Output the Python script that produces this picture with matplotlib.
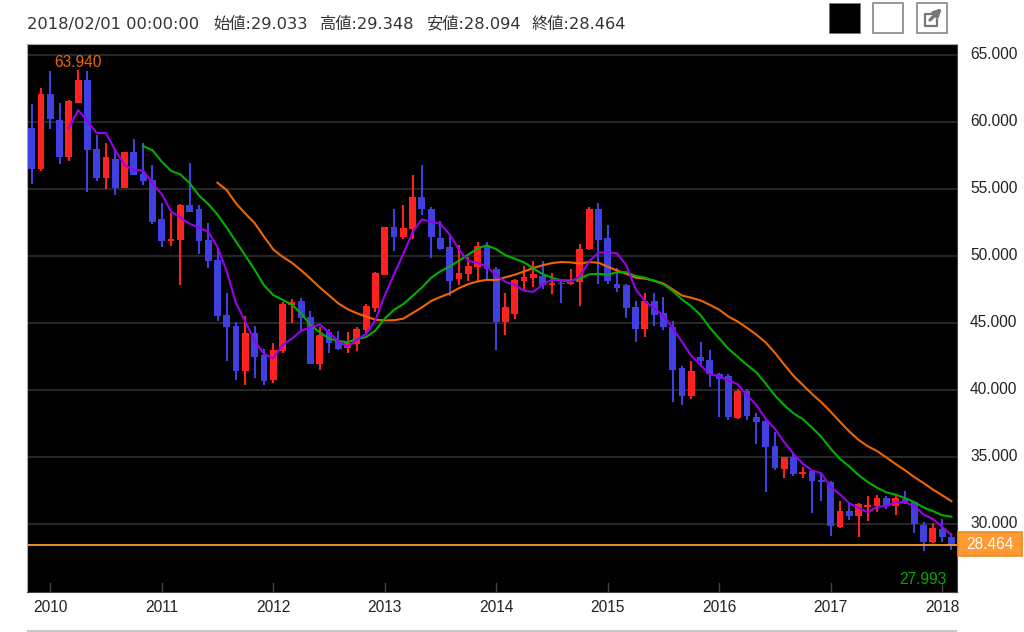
import matplotlib
matplotlib.use("Agg")
import matplotlib.pyplot as plt
from matplotlib.patches import Rectangle
import numpy as np

W, H = 1024, 632

# monthly candles, 2009/11 to 2018/02: upper and lower body edge, wick ends
tops = [59.6,62.14,62.14,60.15,61.59,63.18,63.18,58.03,57.41,57.28,57.81,57.81,56.12,55.70,52.76,51.30,53.81,53.81,53.51,51.2,49.7,45.62,44.78,44.25,44.25,42.61,42.98,46.47,46.57,46.67,45.5,44.15,44.35,43.66,43.53,44.55,46.27,48.78,52.21,52.21,52.14,54.45,54.45,53.5,51.39,50.67,48.78,49.28,50.75,50.77,49.08,46.24,48.23,48.48,48.66,48.56,48.03,48.03,48.08,50.57,53.51,53.51,51.39,47.91,47.84,46.24,46.67,46.67,45.75,44.75,41.62,41.42,42.46,42.24,41.19,41.02,39.95,39.95,38.03,37.66,35.8,35.0,35.0,33.9,33.93,33.28,33.11,30.99,30.99,31.52,31.42,31.91,31.94,31.91,31.87,31.62,29.95,29.72,29.63,29.033]
bots = [56.5,56.49,60.27,57.41,57.41,61.46,57.96,55.84,55.84,55.09,55.09,56.07,55.62,52.59,51.12,51.12,51.22,53.31,51.12,49.63,45.55,44.68,41.44,41.44,42.46,40.7,40.77,42.91,46.34,45.42,41.94,41.94,43.53,43.09,43.14,43.43,44.48,46.17,48.61,51.44,51.44,52.07,53.5,51.44,50.57,48.16,48.28,48.66,49.2,49.03,45.1,45.1,45.65,48.13,48.36,47.84,47.86,47.93,47.91,48.08,50.57,51.22,48.16,47.61,46.17,44.6,44.6,45.62,44.7,41.54,39.53,39.53,42.16,41.24,40.87,37.96,37.91,38.08,37.59,35.77,34.15,34.08,33.73,33.73,33.23,33.11,29.88,29.75,30.57,30.62,31.24,31.32,31.37,31.32,31.57,30.0,28.68,28.68,29.05,28.464]
highs = [61.4,62.53,63.8,61.41,61.69,63.94,63.8,59.08,58.43,57.98,57.81,58.78,58.43,56.79,54.0,53.2,53.9,56.99,53.81,52.46,50.52,47.29,45.1,45.55,44.78,43.06,43.51,46.57,46.79,46.89,45.92,44.68,44.53,44.45,44.35,44.75,46.47,48.8,52.21,53.5,53.81,56.05,56.79,53.71,52.66,51.57,50.87,49.98,51.1,51.1,49.2,47.29,48.33,49.28,49.63,49.63,48.78,48.28,49.08,50.9,53.71,54.0,52.36,49.15,47.9,46.67,47.29,47.29,46.99,45.17,41.8,42.21,43.63,42.99,41.27,41.19,40.07,40.07,38.28,37.76,36.89,35.0,35.3,34.25,33.93,33.9,33.18,31.71,31.54,31.57,32.06,32.16,32.06,32.16,32.46,31.71,30.12,30.05,30.37,29.348]
lows = [55.4,56.4,59.52,56.86,57.11,61.41,54.8,55.64,55.0,54.57,55.09,56.07,55.32,52.39,50.7,50.8,47.86,53.31,50.2,49.1,45.2,42.14,40.77,40.37,40.9,40.37,40.57,42.76,45.0,44.43,41.94,41.52,42.76,43.0,42.76,42.91,44.3,45.85,48.61,50.37,51.32,51.32,53.11,49.85,50.47,47.04,47.84,48.14,48.16,48.28,43.01,44.15,45.3,47.49,47.74,47.59,47.19,46.5,47.84,46.29,50.47,47.96,47.91,47.34,45.42,43.56,43.98,44.8,44.5,39.13,38.9,39.33,41.77,40.27,37.96,37.79,37.84,37.79,35.97,32.41,34.05,33.43,33.56,33.43,30.8,31.74,29.13,29.7,30.27,29.0,30.25,30.92,31.12,30.67,31.5,29.33,27.993,28.58,28.68,28.094]
red_idx = [1,4,5,8,10,15,16,23,26,27,28,31,34,35,36,37,38,40,41,46,47,48,51,52,53,54,56,58,59,60,66,71,76,81,83,87,89,90,91,93,97]

# moving averages; each series ends at the latest candle
ma_short = [59.58,60.92,60.08,59.20,59.20,57.90,56.82,56.44,56.40,55.44,54.64,53.34,52.89,52.43,52.13,51.83,50.68,48.86,46.48,45.11,43.68,42.71,42.37,43.37,43.84,44.43,44.68,44.91,44.32,43.63,43.25,43.77,44.19,45.24,47.07,48.65,50.17,51.80,52.75,52.59,52.42,51.62,50.49,49.65,49.51,49.20,48.59,48.08,47.87,47.42,47.34,47.89,48.25,48.19,48.11,48.49,49.62,50.26,50.31,50.21,49.33,47.55,46.64,46.13,45.55,44.63,43.61,42.56,41.87,41.18,41.04,40.73,40.44,39.62,38.89,37.87,37.11,36.12,35.25,34.51,34.00,33.79,32.77,32.22,31.56,31.21,30.88,31.28,31.36,31.63,31.64,31.35,30.71,30.38,29.80,29.18]
ma_mid = [58.22,57.92,57.07,56.38,56.11,55.47,54.54,53.90,53.11,52.13,51.08,50.04,48.99,47.84,47.10,46.75,46.38,45.74,44.86,44.33,43.86,43.67,43.58,43.82,43.97,44.46,45.35,46.00,46.43,47.04,47.66,48.39,48.88,49.24,49.68,50.12,50.60,50.81,50.53,50.07,49.82,49.54,49.09,48.66,48.40,48.19,48.19,48.32,48.65,48.69,48.62,48.81,48.81,48.53,48.39,48.15,47.91,47.41,46.77,46.26,45.61,44.66,43.87,43.08,42.49,41.87,41.33,40.49,39.61,38.87,38.27,37.83,37.20,36.51,35.63,34.87,34.30,33.66,33.14,32.71,32.37,32.20,31.93,31.64,31.24,30.97,30.66,30.55]
ma_long = [55.49,54.93,53.94,53.18,52.47,51.47,50.51,49.96,49.52,48.95,48.33,47.68,47.08,46.48,46.05,45.74,45.50,45.26,45.21,45.22,45.34,45.76,46.18,46.66,46.96,47.23,47.62,47.92,48.12,48.24,48.22,48.43,48.62,48.86,49.12,49.33,49.49,49.57,49.54,49.46,49.56,49.52,49.22,48.94,48.69,48.40,48.33,48.18,47.96,47.52,47.07,46.90,46.70,46.37,46.01,45.50,45.12,44.65,44.15,43.57,42.79,41.91,41.07,40.39,39.71,39.09,38.39,37.64,36.92,36.29,35.81,35.45,34.97,34.48,34.02,33.51,33.06,32.58,32.15,31.71]

price_ticks = [65, 60, 55, 50, 45, 40, 35, 30]
year_labels = ["2010", "2011", "2012", "2013", "2014", "2015", "2016", "2017", "2018"]
year_pos = [2, 14, 26, 38, 50, 62, 74, 86, 98]
last_close = 28.464

AXIS_FONT = ['Liberation Sans', 'DejaVu Sans']
HEAD_FONT = ['DejaVu Sans', 'Noto Sans CJK JP']
TXT = 11.2
plt.rcParams['font.family'] = AXIS_FONT
fig = plt.figure(figsize=(W/100, H/100), dpi=100, facecolor='white')

ax = fig.add_axes([27/W, 1-592/H, 930/W, 548/H])
ax.set_facecolor('black')
ax.set_xlim((27-31.7)/9.29, (957-31.7)/9.29)
ax.set_ylim(65-(592-55.4)/13.39, 65+(55.4-44)/13.39)
ax.spines['top'].set_color('#aaaaaa')
ax.spines['left'].set_color('#aaaaaa')
ax.spines['right'].set_color('#444444')
ax.spines['bottom'].set_color('#444444')
ax.set_yticks([])
ax.set_xticks([])

for v in price_ticks:
    ax.axhline(v, color='#2e2e2e', lw=1.2, zorder=1)
    ax.annotate(f"{v:.3f}", xy=(1, v), xycoords=('axes fraction', 'data'), xytext=(13, 1),
                textcoords='offset pixels', ha='left', va='center', fontsize=TXT,
                color='#222222', annotation_clip=False)

colors = ['#ff2020' if i in red_idx else '#4040e0' for i in range(len(tops))]
x = np.arange(len(tops))
ax.vlines(x, lows, highs, colors=colors, lw=1.5, zorder=2)
ax.bar(x, np.array(tops)-np.array(bots), bottom=bots, width=6.8/9.29,
       color=colors, linewidth=0, zorder=3)
ax.plot(x[-len(ma_long):], ma_long, color='#ee6600', lw=1.5, zorder=4)
ax.plot(x[-len(ma_mid):], ma_mid, color='#00b000', lw=1.5, zorder=5)
ax.plot(x[-len(ma_short):], ma_short, color='#9900ee', lw=1.5, zorder=6)
ax.axhline(last_close, color='#ff9933', lw=1.3, zorder=7)

for xp, lab in zip(year_pos, year_labels):
    ax.plot([xp, xp], [0, 0.016], transform=ax.get_xaxis_transform(), color='#444444', lw=1, zorder=2)
    ax.annotate(lab, xy=(xp, 0), xycoords=('data', 'axes fraction'), xytext=(0, -15),
                textcoords='offset pixels', ha='center', va='center', fontsize=TXT,
                color='#222222', annotation_clip=False)

# extreme values of the whole range
ax.text(5, 63.94, "63.940", color='#ee6600', fontsize=TXT, ha='center', va='bottom')
ax.annotate("27.993", xy=(1, 27.993), xycoords=('axes fraction', 'data'), xytext=(-11, -29),
            textcoords='offset pixels', color='#00aa00', fontsize=TXT, ha='right', va='center')

# header and price tag, placed in pixel coordinates
ov = fig.add_axes([0, 0, 1, 1], facecolor='none')
ov.set_xlim(0, W)
ov.set_ylim(H, 0)
ov.axis('off')
ov.add_patch(Rectangle((957.5, 532), 64, 24, fc='#ff9933', ec='#ee8a22', lw=1.2))
ov.text(989.5, 544.5, "28.464", color='white', fontsize=TXT, ha='center', va='center')

header = [(27, "2018/02/01 00:00:00"), (213, "始値:29.033"), (320, "高値:29.348"),
          (426, "安値:28.094"), (532, "終値:28.464")]
for hx, txt in header:
    ov.text(hx, 24, txt, fontsize=11.7, color='#333333', va='center', family=HEAD_FONT)

ov.add_patch(Rectangle((829, 3), 31, 30, fc='black', ec='#777777', lw=0.6))
ov.add_patch(Rectangle((873, 3), 30, 30, fc='white', ec='#888888', lw=1.2))
ov.add_patch(Rectangle((917, 3), 30, 30, fc='white', ec='#888888', lw=1.2))
ov.plot([932, 925, 925, 937, 937], [14, 14, 26, 26, 20], color='#777777', lw=1.6)
ov.annotate("", xy=(942, 8), xytext=(930, 20),
            arrowprops=dict(arrowstyle='-|>', color='#777777', lw=2.4, mutation_scale=11,
                            shrinkA=0, shrinkB=0))
ov.plot([28, 956], [631, 631], color='#c8c8c8', lw=1.5)

fig.savefig('out.png', dpi=100)
